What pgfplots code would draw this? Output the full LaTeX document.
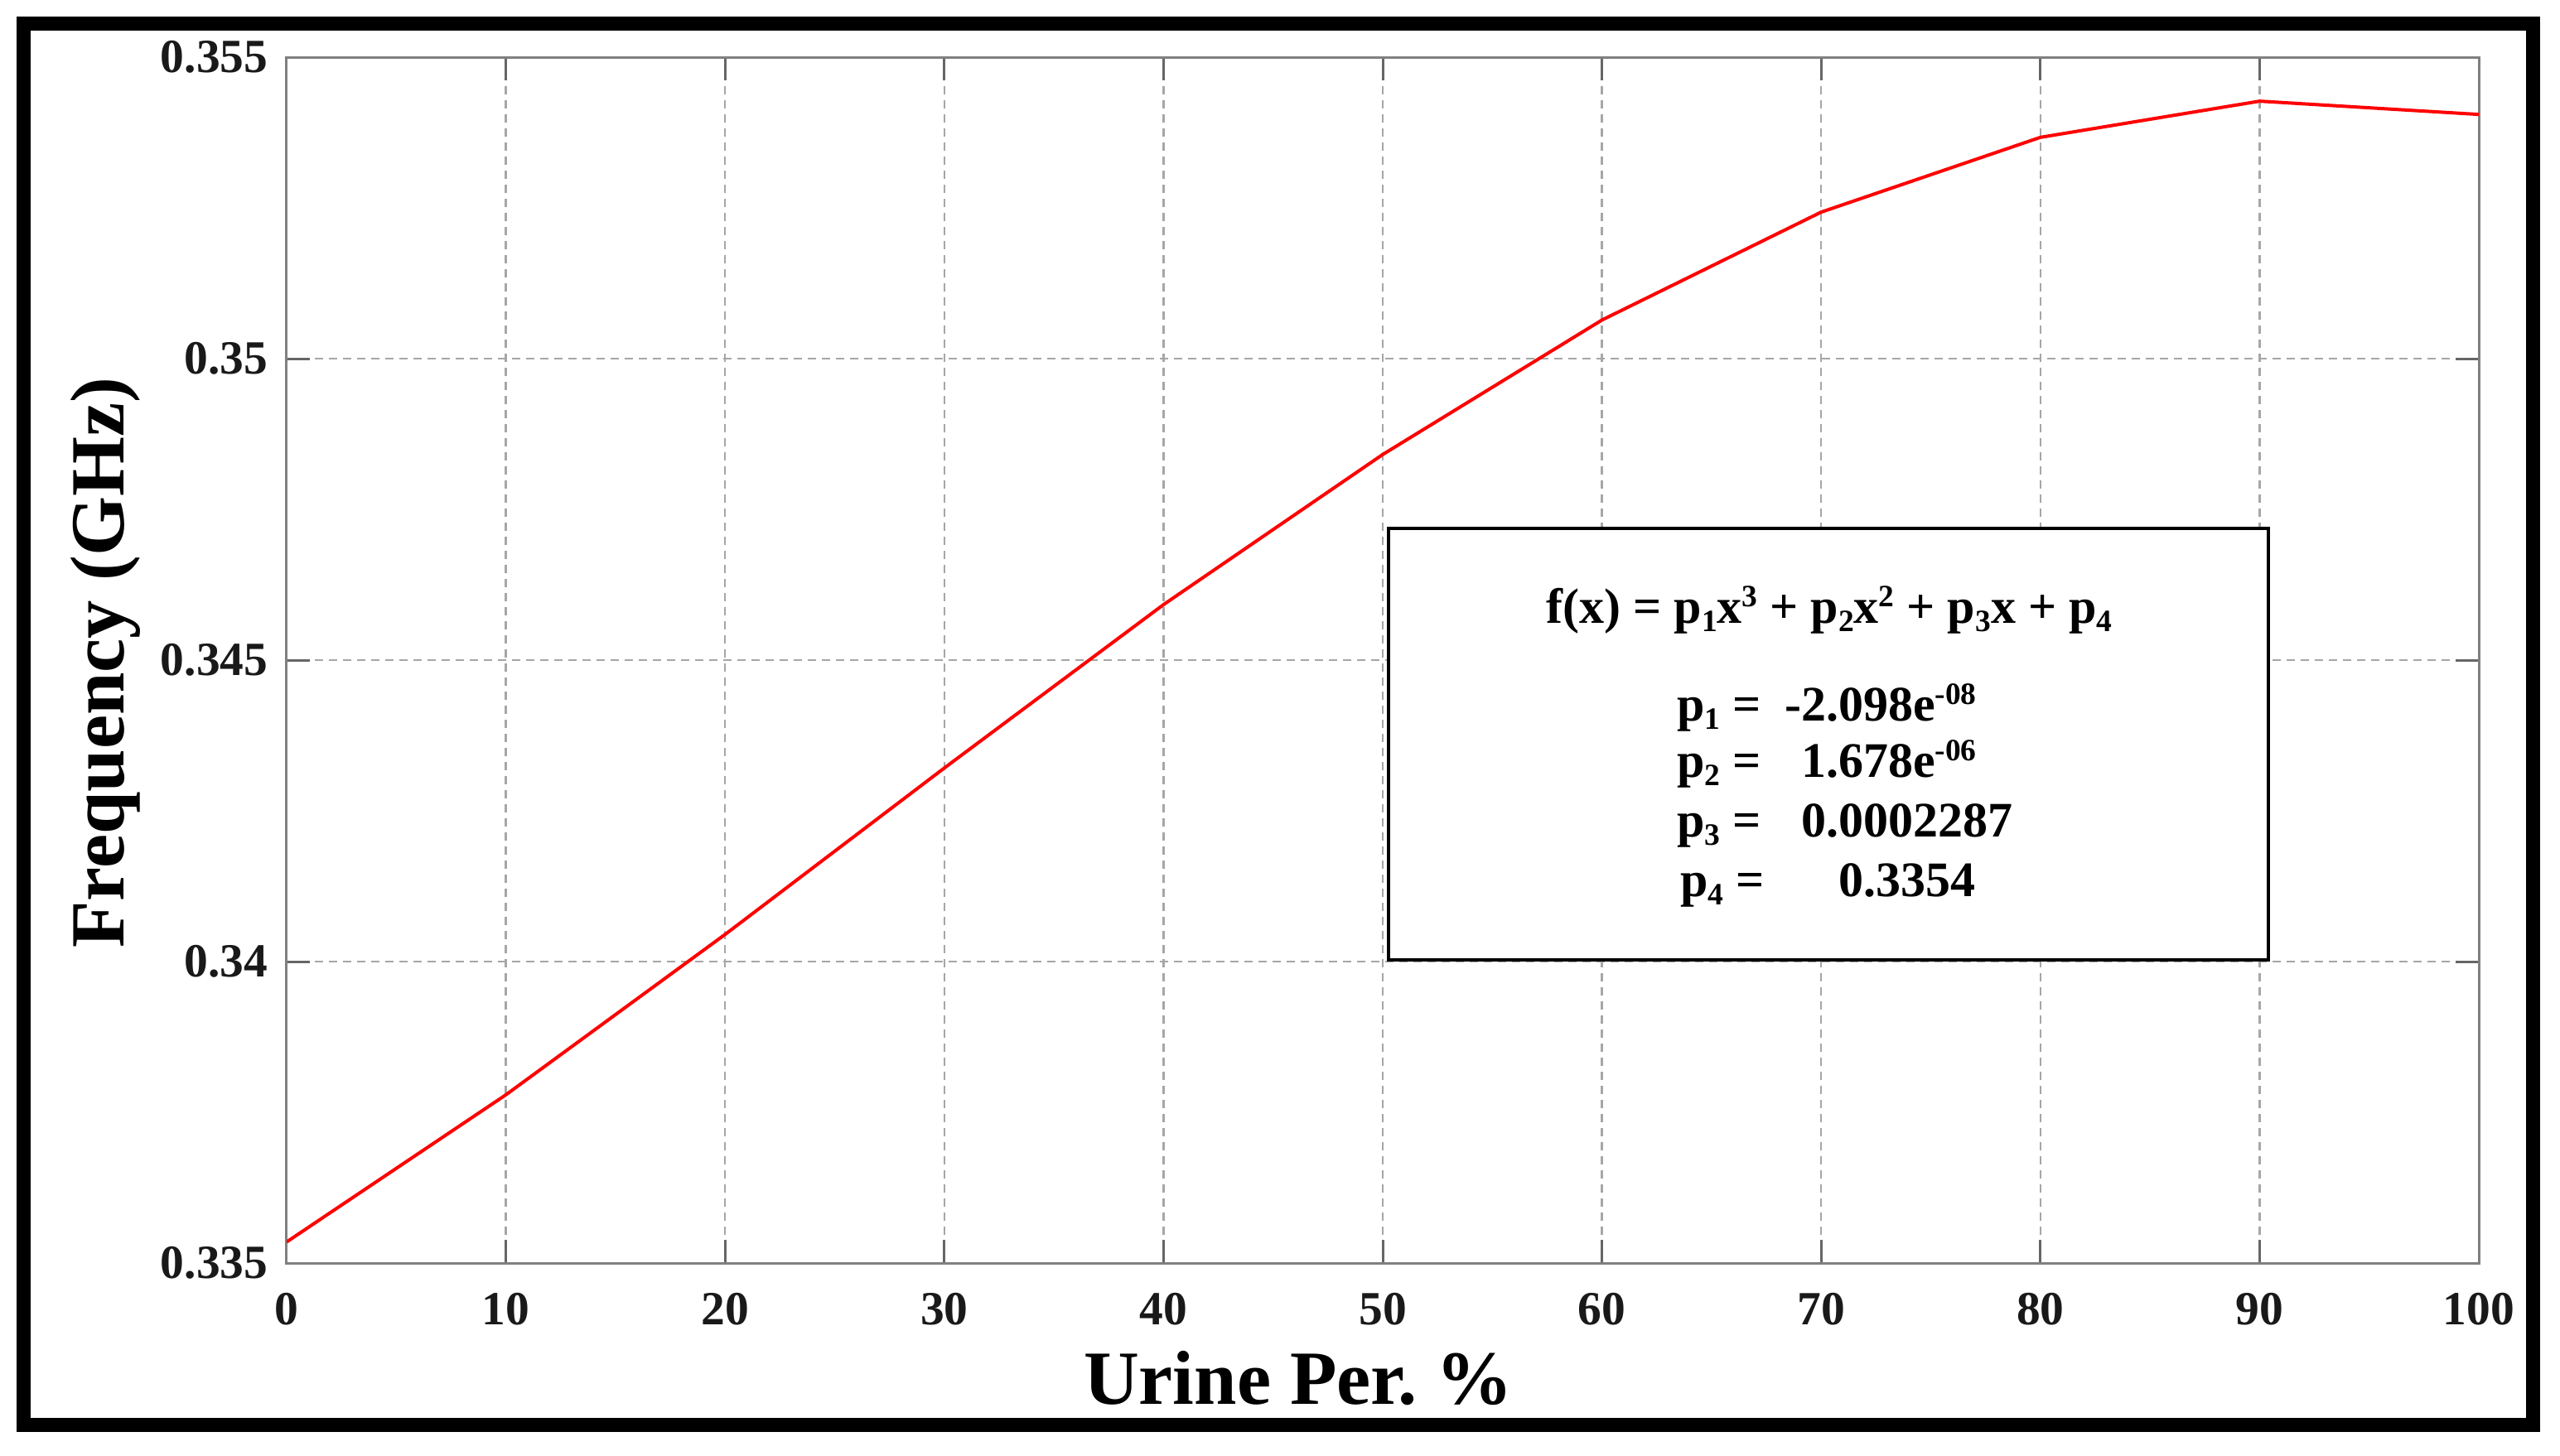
\documentclass[border=0pt]{standalone}
\usepackage{fontspec}
\setmainfont{Liberation Serif}
\usepackage{pgfplots}
\pgfplotsset{compat=1.18}
\frenchspacing
\newcommand\sub[1]{\raisebox{-2pt}{\fontsize{7.5}{9}\selectfont #1}}
\newcommand\sups[1]{\raisebox{4pt}{\fontsize{7.5}{9}\selectfont #1}}
\begin{document}
\begin{tikzpicture}
\path[use as bounding box] (-69.2pt,-46.4pt) rectangle (548.8pt,305pt);
\begin{axis}[
  at={(0pt,0pt)}, anchor=south west,
  scale only axis, width=529.2pt, height=291.2pt,
  xmin=0, xmax=100, ymin=0.335, ymax=0.355,
  xtick={0,10,20,30,40,50,60,70,80,90,100},
  xticklabels={0,10,20,30,40,50,60,70,80,90,100},
  ytick={0.335,0.34,0.345,0.35,0.355},
  yticklabels={0.335,0.34,0.345,0.35,0.355},
  scaled y ticks=false,
  /pgf/number format/assume math mode=true,
  tick label style={font=\fontsize{11.5}{13}\selectfont\bfseries, text=black!90},
  xticklabel style={yshift=-3.8pt},
  yticklabel style={xshift=-1pt},
  grid=major,
  major grid style={dash pattern=on 2pt off 1.4pt, color=black!35, line width=0.5pt},
  axis line style={black!50, line width=0.6pt},
  tick style={black!60, line width=0.6pt},
  major tick length=5.6pt, tick align=inside,
  xlabel={Urine Per.\ \%},
  xlabel style={at={([yshift=-34pt]axis description cs:0.4615,0)}, anchor=base, font=\fontsize{18.5}{22}\selectfont\bfseries},
  ylabel={Frequency (GHz)},
  ylabel style={at={([xshift=-39.2pt]axis description cs:0,0.498)}, anchor=base, font=\fontsize{18.5}{22}\selectfont\bfseries},
]
\addplot[red, line width=0.8pt] coordinates {
 (0,0.33535) (10,0.33779) (20,0.34045) (30,0.34321) (40,0.34592)
 (50,0.34841) (60,0.35064) (70,0.35243) (80,0.35367) (90,0.35427) (100,0.35405)
};
\end{axis}
\fill[white] (266pt,73.2pt) rectangle (478.4pt,177.4pt);
\draw[line width=0.8pt] (266pt,73.2pt) rectangle (478.4pt,177.4pt);
\begin{scope}[every node/.style={inner sep=0pt, font=\fontsize{12}{14}\selectfont\bfseries}]
\node[anchor=base] at (372.4pt,154.6pt) {f(x) = p\sub{1}x\sups{3} + p\sub{2}x\sups{2} + p\sub{3}x + p\sub{4}};
\node[anchor=base west] at (335.4pt,131pt) {p\sub{1} =};
\node[anchor=base west] at (361.4pt,131pt) {-2.098e\sups{-08}};
\node[anchor=base west] at (335.4pt,117.4pt) {p\sub{2} =};
\node[anchor=base west] at (365.4pt,117.4pt) {1.678e\sups{-06}};
\node[anchor=base west] at (335.4pt,103pt) {p\sub{3} =};
\node[anchor=base west] at (365.4pt,103pt) {0.0002287};
\node[anchor=base west] at (336.2pt,88.6pt) {p\sub{4} =};
\node[anchor=base west] at (374.4pt,88.6pt) {0.3354};
\end{scope}
\draw[line width=3.4pt] (-63.5pt,-39.1pt) rectangle (542.3pt,299.3pt);
\end{tikzpicture}
\end{document}
